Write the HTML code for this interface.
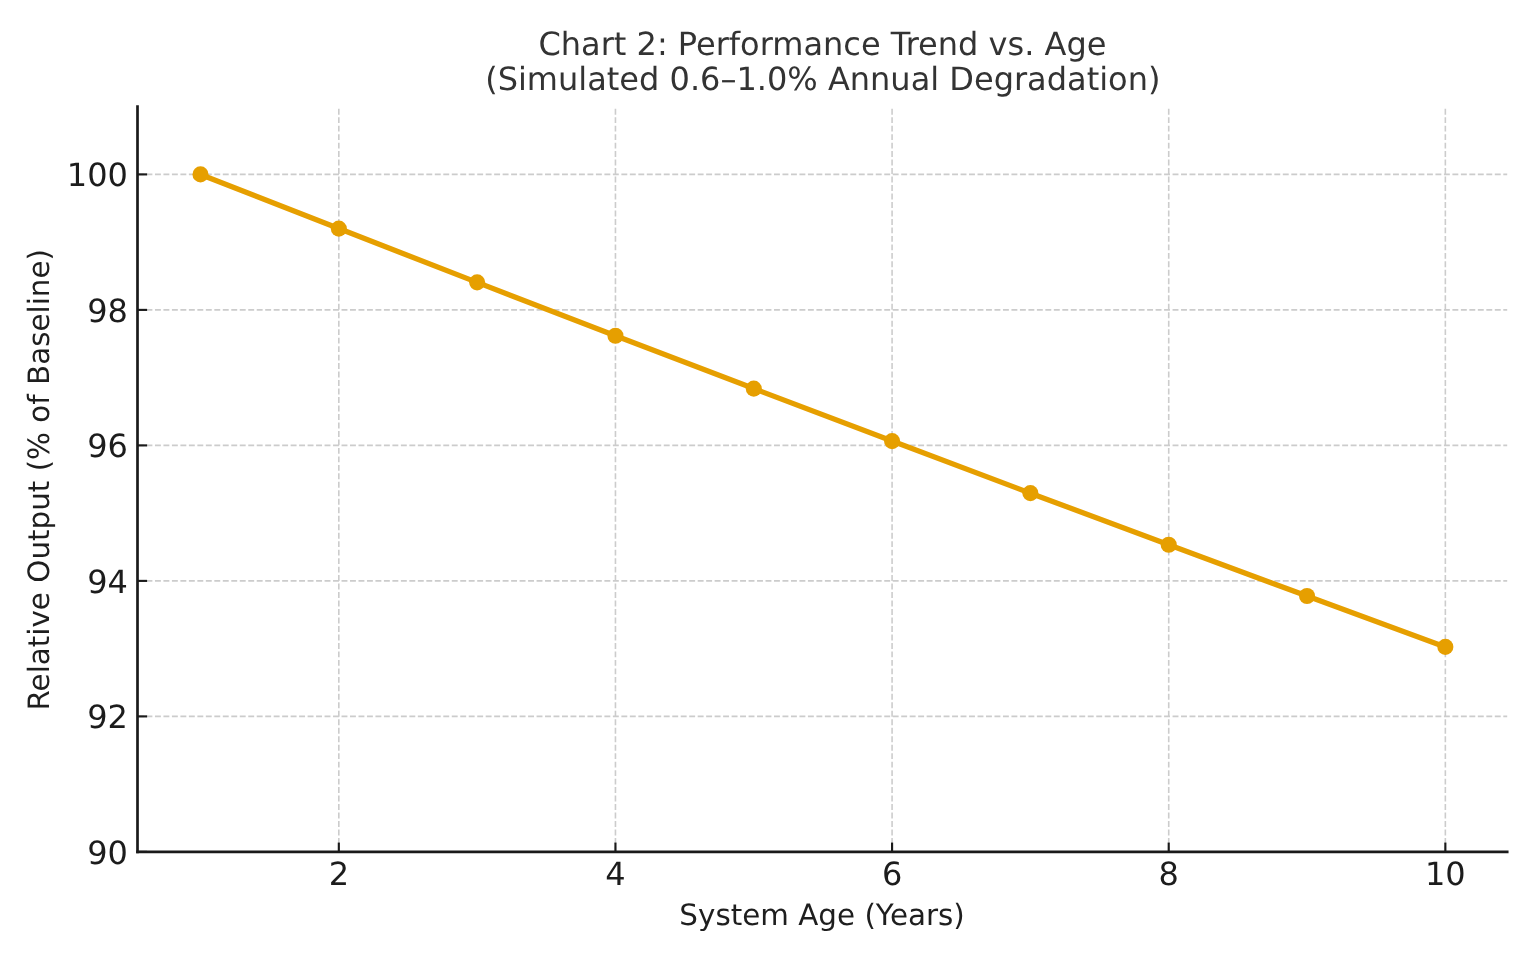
<!DOCTYPE html>
<html lang="en">
<head>
<meta charset="utf-8">
<title>Chart 2: Performance Trend vs. Age</title>
<style>
html,body{margin:0;padding:0;background:#fff;}
body{width:1536px;height:960px;overflow:hidden;}
svg{display:block;}
text{font-family:"DejaVu Sans","Liberation Sans",sans-serif;text-rendering:geometricPrecision;}
.tick text{font-size:32px;fill:#1c1c1c;}
.title{font-size:32px;fill:#333;}
.lab{font-size:29.38px;fill:#1e1e1e;}
</style>
</head>
<body>
<svg width="1536" height="960" viewBox="0 0 1536 960">
<rect width="1536" height="960" fill="#ffffff"/>
<g stroke="#cccccc" stroke-width="1.6" stroke-dasharray="5.92 2.56" fill="none">
<line x1="338.82" y1="852.40" x2="338.82" y2="106.65"/>
<line x1="615.45" y1="852.40" x2="615.45" y2="106.65"/>
<line x1="892.08" y1="852.40" x2="892.08" y2="106.65"/>
<line x1="1168.72" y1="852.40" x2="1168.72" y2="106.65"/>
<line x1="1445.35" y1="852.40" x2="1445.35" y2="106.65"/>
<line x1="138.00" y1="851.90" x2="1507.2" y2="851.90"/>
<line x1="138.00" y1="716.40" x2="1507.2" y2="716.40"/>
<line x1="138.00" y1="580.90" x2="1507.2" y2="580.90"/>
<line x1="138.00" y1="445.40" x2="1507.2" y2="445.40"/>
<line x1="138.00" y1="309.90" x2="1507.2" y2="309.90"/>
<line x1="138.00" y1="174.40" x2="1507.2" y2="174.40"/>
</g>
<g stroke="#E69F00" fill="none" stroke-width="5.33" stroke-linejoin="round" stroke-linecap="butt">
<polyline points="200.50,174.40 338.82,228.60 477.13,282.37 615.45,335.70 753.77,388.61 892.08,441.10 1030.40,493.16 1168.72,544.81 1307.03,596.05 1445.35,646.88"/>
</g>
<g fill="#E69F00" stroke="none"><circle cx="200.50" cy="174.40" r="8.05"/><circle cx="338.82" cy="228.60" r="8.05"/><circle cx="477.13" cy="282.37" r="8.05"/><circle cx="615.45" cy="335.70" r="8.05"/><circle cx="753.77" cy="388.61" r="8.05"/><circle cx="892.08" cy="441.10" r="8.05"/><circle cx="1030.40" cy="493.16" r="8.05"/><circle cx="1168.72" cy="544.81" r="8.05"/><circle cx="1307.03" cy="596.05" r="8.05"/><circle cx="1445.35" cy="646.88" r="8.05"/></g>
<g stroke="#1a1a1a" stroke-width="2.13" fill="none">
<line x1="338.82" y1="851.9" x2="338.82" y2="842.57"/>
<line x1="615.45" y1="851.9" x2="615.45" y2="842.57"/>
<line x1="892.08" y1="851.9" x2="892.08" y2="842.57"/>
<line x1="1168.72" y1="851.9" x2="1168.72" y2="842.57"/>
<line x1="1445.35" y1="851.9" x2="1445.35" y2="842.57"/>
<line x1="137.5" y1="851.90" x2="147.10" y2="851.90"/>
<line x1="137.5" y1="716.40" x2="147.10" y2="716.40"/>
<line x1="137.5" y1="580.90" x2="147.10" y2="580.90"/>
<line x1="137.5" y1="445.40" x2="147.10" y2="445.40"/>
<line x1="137.5" y1="309.90" x2="147.10" y2="309.90"/>
<line x1="137.5" y1="174.40" x2="147.10" y2="174.40"/>
</g>
<g stroke="#1a1a1a" stroke-width="2.7" fill="none" stroke-linecap="square">
<line x1="137.5" y1="851.9" x2="137.5" y2="106.65"/>
<line x1="137.5" y1="851.9" x2="1507.2" y2="851.9"/>
</g>
<g class="tick">
<text x="338.82" y="885.3" text-anchor="middle">2</text>
<text x="615.45" y="885.3" text-anchor="middle">4</text>
<text x="892.08" y="885.3" text-anchor="middle">6</text>
<text x="1168.72" y="885.3" text-anchor="middle">8</text>
<text x="1445.35" y="885.3" text-anchor="middle">10</text>
<text x="127.9" y="863.60" text-anchor="end">90</text>
<text x="127.9" y="728.10" text-anchor="end">92</text>
<text x="127.9" y="592.60" text-anchor="end">94</text>
<text x="127.9" y="457.10" text-anchor="end">96</text>
<text x="127.9" y="321.60" text-anchor="end">98</text>
<text x="127.9" y="186.10" text-anchor="end">100</text>
</g>
<text class="title" x="822.4" y="54.5" text-anchor="middle">Chart 2: Performance Trend vs. Age</text>
<text class="title" x="822.8" y="90.1" text-anchor="middle">(Simulated 0.6–1.0% Annual Degradation)</text>
<text class="lab" x="822.1" y="924.5" text-anchor="middle">System Age (Years)</text>
<text class="lab" transform="translate(49.4,479.75) rotate(-90)" text-anchor="middle">Relative Output (% of Baseline)</text>
</svg>
</body>
</html>
